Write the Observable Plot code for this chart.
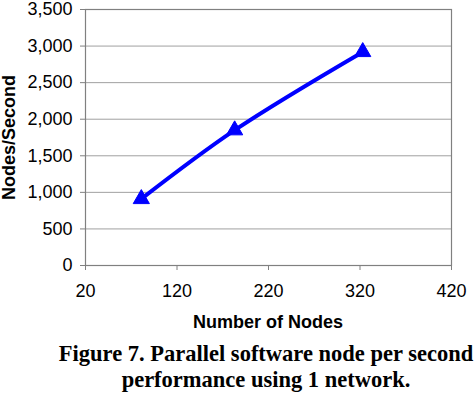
<!DOCTYPE html>
<html>
<head>
<meta charset="utf-8">
<script src="https://cdn.jsdelivr.net/npm/d3@7"></script>
<script src="https://cdn.jsdelivr.net/npm/@observablehq/plot@0.6"></script>
<style>
  body { margin: 0; background: #fff; }
  #caption { margin-left: 56px; width: 420px; text-align: center; white-space: nowrap;
    font-family: "Liberation Serif", "Times New Roman", serif; font-weight: bold; font-size: 22.5px; line-height: 26px; color: #000; }
</style>
</head>
<body>
<div id="chart"></div>
<div id="caption">Figure 7. Parallel software node per second<br>performance using 1 network.</div>
<script>
const nodes = [81, 183, 323];
const nodesPerSecond = [910, 1850, 2920];
const xTicks = [20, 120, 220, 320, 420];
const yTicks = [0, 500, 1000, 1500, 2000, 2500, 3000, 3500];
const xLabel = "Number of Nodes";
const yLabel = "Nodes/Second";

const data = nodes.map((n, i) => ({n, v: nodesPerSecond[i]}));
const font = "'Liberation Sans', Arial, sans-serif";

const chart = Plot.plot({
  width: 474,
  height: 341,
  marginTop: 9,
  marginLeft: 85,
  marginRight: 23,
  marginBottom: 76,
  style: {fontFamily: font, fontSize: "18px", background: "#fff", color: "#000"},
  x: {domain: [20, 420]},
  y: {domain: [0, 3500]},
  marks: [
    Plot.ruleY(yTicks, {stroke: "#a0a0a0", strokeWidth: 1}),
    Plot.frame({stroke: "#808080", strokeWidth: 1.2}),
    Plot.axisX({ticks: xTicks, tickSize: 5, tickPadding: 14, stroke: "#808080", fill: "#000", fontSize: 18, label: null}),
    Plot.axisY({ticks: yTicks, tickSize: 5, tickPadding: 8, tickFormat: d3.format(","), stroke: "#808080", fill: "#000", fontSize: 18, label: null}),
    Plot.line(data, {x: "n", y: "v", curve: "catmull-rom", stroke: "#0000ff", strokeWidth: 4}),
    Plot.dot(data, {x: "n", y: "v", symbol: "triangle", r: 6, fill: "#0000ff", stroke: "#0000ff", strokeWidth: 1})
  ]
});

const svg = d3.select(chart);
svg.append("text")
  .attr("x", 268).attr("y", 328)
  .attr("text-anchor", "middle")
  .attr("font-family", font).attr("font-weight", "bold").attr("font-size", 18)
  .attr("fill", "#000")
  .text(xLabel);
svg.append("text")
  .attr("transform", "translate(15,137.5) rotate(-90)")
  .attr("text-anchor", "middle")
  .attr("font-family", font).attr("font-weight", "bold").attr("font-size", 18)
  .attr("fill", "#000")
  .text(yLabel);

document.getElementById("chart").appendChild(chart);
</script>
</body>
</html>
